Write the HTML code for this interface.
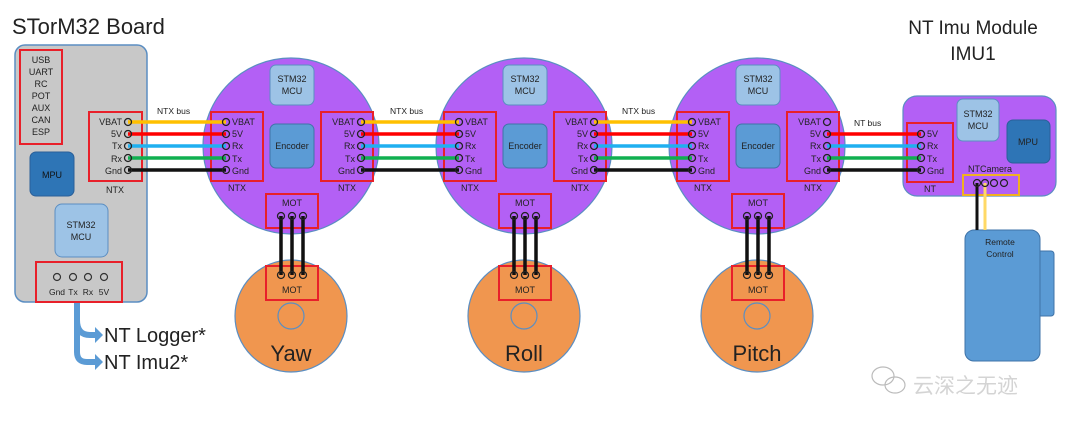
<!DOCTYPE html>
<html><head><meta charset="utf-8"><style>
html,body{margin:0;padding:0;background:#fff}
svg{display:block}
text{font-family:"Liberation Sans","Noto Sans CJK SC",sans-serif}
</style></head><body>
<svg width="1080" height="432" viewBox="0 0 1080 432" xmlns="http://www.w3.org/2000/svg">
<text x="12" y="34" font-size="22" fill="#222">STorM32 Board</text>
<text x="973" y="34" font-size="19" fill="#222" text-anchor="middle">NT Imu Module</text>
<text x="973" y="60" font-size="19" fill="#222" text-anchor="middle">IMU1</text>

<rect x="15" y="45" width="132" height="257" rx="10" fill="#c8c8c8" stroke="#5b8ec2" stroke-width="1.5"/>
<rect x="20" y="50" width="42" height="94" fill="none" stroke="#e8202a" stroke-width="2"/>
<g font-size="9" fill="#222" text-anchor="middle">
<text x="41" y="63">USB</text><text x="41" y="75">UART</text><text x="41" y="87">RC</text>
<text x="41" y="99">POT</text><text x="41" y="111">AUX</text><text x="41" y="123">CAN</text><text x="41" y="135">ESP</text>
</g>
<rect x="30" y="152" width="44" height="44" rx="6" fill="#2e75b6" stroke="#2a5f99"/>
<text x="52" y="178" font-size="9" fill="#111" text-anchor="middle">MPU</text>
<rect x="55" y="204" width="53" height="53" rx="7" fill="#9dc3e6" stroke="#5b8ec2"/>
<text x="81" y="228" font-size="9" fill="#222" text-anchor="middle">STM32</text>
<text x="81" y="240" font-size="9" fill="#222" text-anchor="middle">MCU</text>
<rect x="89" y="112" width="53" height="69" fill="none" stroke="#e8202a" stroke-width="2"/>
<g font-size="9" fill="#222" text-anchor="end">
<text x="122" y="125">VBAT</text><text x="122" y="137">5V</text><text x="122" y="149">Tx</text><text x="122" y="162">Rx</text><text x="122" y="174">Gnd</text>
</g>
<text x="115" y="193" font-size="9" fill="#222" text-anchor="middle">NTX</text>
<rect x="36" y="262" width="86" height="40" fill="none" stroke="#e8202a" stroke-width="2"/>
<g fill="none" stroke="#333" stroke-width="1.2">
<circle cx="57" cy="277" r="3.5"/><circle cx="73" cy="277" r="3.5"/><circle cx="88" cy="277" r="3.5"/><circle cx="104" cy="277" r="3.5"/>
</g>
<g font-size="8.5" fill="#222" text-anchor="middle">
<text x="57" y="295">Gnd</text><text x="73" y="295">Tx</text><text x="88" y="295">Rx</text><text x="104" y="295">5V</text>
</g>
<g fill="none" stroke="#5b9bd5" stroke-width="6">
<path d="M77 303 V352 Q77 362 87 362 H96"/>
<path d="M77 320 Q77 335 90 335 H96"/>
</g>
<path d="M95 327 L103 335 L95 343 Z" fill="#5b9bd5"/>
<path d="M95 354 L103 362 L95 370 Z" fill="#5b9bd5"/>
<text x="104" y="342" font-size="20" fill="#222">NT Logger*</text>
<text x="104" y="369" font-size="20" fill="#222">NT Imu2*</text>

<g font-size="9" fill="#222">
<!-- Yaw -->
<circle cx="291" cy="146" r="88" fill="#b360f5" stroke="#5b8ec2" stroke-width="1.2"/>
<rect x="270" y="65" width="44" height="40" rx="6" fill="#9dc3e6" stroke="#5b8ec2"/>
<text x="292" y="82" text-anchor="middle">STM32</text><text x="292" y="94" text-anchor="middle">MCU</text>
<rect x="270" y="124" width="44" height="44" rx="6" fill="#5b9bd5" stroke="#3f73a8"/>
<text x="292" y="149" text-anchor="middle">Encoder</text>
<rect x="211" y="112" width="52" height="69" fill="none" stroke="#e8202a" stroke-width="2"/>
<rect x="321" y="112" width="52" height="69" fill="none" stroke="#e8202a" stroke-width="2"/>
<text x="237" y="191" text-anchor="middle">NTX</text><text x="347" y="191" text-anchor="middle">NTX</text>
<text x="232" y="125">VBAT</text><text x="232" y="137">5V</text><text x="232" y="149">Rx</text><text x="232" y="162">Tx</text><text x="232" y="174">Gnd</text>
<g text-anchor="end"><text x="355" y="125">VBAT</text><text x="355" y="137">5V</text><text x="355" y="149">Rx</text><text x="355" y="162">Tx</text><text x="355" y="174">Gnd</text></g>
<rect x="266" y="194" width="52" height="34" fill="none" stroke="#e8202a" stroke-width="2"/>
<text x="292" y="206" text-anchor="middle">MOT</text>
<circle cx="291" cy="316" r="56" fill="#f0964f" stroke="#5b8ec2" stroke-width="1.2"/>
<rect x="266" y="266" width="52" height="34" fill="none" stroke="#e8202a" stroke-width="2"/>
<text x="292" y="293" text-anchor="middle">MOT</text>
<circle cx="291" cy="316" r="13" fill="none" stroke="#5b8ec2" stroke-width="1.2"/>
<text x="291" y="361" font-size="22" text-anchor="middle">Yaw</text>

<!-- Roll -->
<circle cx="524" cy="146" r="88" fill="#b360f5" stroke="#5b8ec2" stroke-width="1.2"/>
<rect x="503" y="65" width="44" height="40" rx="6" fill="#9dc3e6" stroke="#5b8ec2"/>
<text x="525" y="82" text-anchor="middle">STM32</text><text x="525" y="94" text-anchor="middle">MCU</text>
<rect x="503" y="124" width="44" height="44" rx="6" fill="#5b9bd5" stroke="#3f73a8"/>
<text x="525" y="149" text-anchor="middle">Encoder</text>
<rect x="444" y="112" width="52" height="69" fill="none" stroke="#e8202a" stroke-width="2"/>
<rect x="554" y="112" width="52" height="69" fill="none" stroke="#e8202a" stroke-width="2"/>
<text x="470" y="191" text-anchor="middle">NTX</text><text x="580" y="191" text-anchor="middle">NTX</text>
<text x="465" y="125">VBAT</text><text x="465" y="137">5V</text><text x="465" y="149">Rx</text><text x="465" y="162">Tx</text><text x="465" y="174">Gnd</text>
<g text-anchor="end"><text x="588" y="125">VBAT</text><text x="588" y="137">5V</text><text x="588" y="149">Rx</text><text x="588" y="162">Tx</text><text x="588" y="174">Gnd</text></g>
<rect x="499" y="194" width="52" height="34" fill="none" stroke="#e8202a" stroke-width="2"/>
<text x="525" y="206" text-anchor="middle">MOT</text>
<circle cx="524" cy="316" r="56" fill="#f0964f" stroke="#5b8ec2" stroke-width="1.2"/>
<rect x="499" y="266" width="52" height="34" fill="none" stroke="#e8202a" stroke-width="2"/>
<text x="525" y="293" text-anchor="middle">MOT</text>
<circle cx="524" cy="316" r="13" fill="none" stroke="#5b8ec2" stroke-width="1.2"/>
<text x="524" y="361" font-size="22" text-anchor="middle">Roll</text>

<!-- Pitch -->
<circle cx="757" cy="146" r="88" fill="#b360f5" stroke="#5b8ec2" stroke-width="1.2"/>
<rect x="736" y="65" width="44" height="40" rx="6" fill="#9dc3e6" stroke="#5b8ec2"/>
<text x="758" y="82" text-anchor="middle">STM32</text><text x="758" y="94" text-anchor="middle">MCU</text>
<rect x="736" y="124" width="44" height="44" rx="6" fill="#5b9bd5" stroke="#3f73a8"/>
<text x="758" y="149" text-anchor="middle">Encoder</text>
<rect x="677" y="112" width="52" height="69" fill="none" stroke="#e8202a" stroke-width="2"/>
<rect x="787" y="112" width="52" height="69" fill="none" stroke="#e8202a" stroke-width="2"/>
<text x="703" y="191" text-anchor="middle">NTX</text><text x="813" y="191" text-anchor="middle">NTX</text>
<text x="698" y="125">VBAT</text><text x="698" y="137">5V</text><text x="698" y="149">Rx</text><text x="698" y="162">Tx</text><text x="698" y="174">Gnd</text>
<g text-anchor="end"><text x="821" y="125">VBAT</text><text x="821" y="137">5V</text><text x="821" y="149">Rx</text><text x="821" y="162">Tx</text><text x="821" y="174">Gnd</text></g>
<rect x="732" y="194" width="52" height="34" fill="none" stroke="#e8202a" stroke-width="2"/>
<text x="758" y="206" text-anchor="middle">MOT</text>
<circle cx="757" cy="316" r="56" fill="#f0964f" stroke="#5b8ec2" stroke-width="1.2"/>
<rect x="732" y="266" width="52" height="34" fill="none" stroke="#e8202a" stroke-width="2"/>
<text x="758" y="293" text-anchor="middle">MOT</text>
<circle cx="757" cy="316" r="13" fill="none" stroke="#5b8ec2" stroke-width="1.2"/>
<text x="757" y="361" font-size="22" text-anchor="middle">Pitch</text>

<!-- IMU module -->
<rect x="903" y="96" width="153" height="100" rx="14" fill="#b360f5" stroke="#5b8ec2" stroke-width="1.2"/>
<rect x="957" y="99" width="42" height="42" rx="6" fill="#9dc3e6" stroke="#5b8ec2"/>
<text x="978" y="117" text-anchor="middle">STM32</text><text x="978" y="129" text-anchor="middle">MCU</text>
<rect x="1007" y="120" width="43" height="43" rx="6" fill="#2e75b6" stroke="#2a5f99"/>
<text x="1028" y="145" text-anchor="middle">MPU</text>
<rect x="907" y="123" width="46" height="59" fill="none" stroke="#e8202a" stroke-width="2"/>
<text x="927" y="137">5V</text><text x="927" y="149">Rx</text><text x="927" y="162">Tx</text><text x="927" y="174">Gnd</text>
<text x="930" y="192" text-anchor="middle">NT</text>
<text x="990" y="172" text-anchor="middle">NTCamera</text>
<rect x="963" y="175" width="56" height="20" fill="none" stroke="#f0b020" stroke-width="2"/>
<text x="157" y="114" font-size="8.5">NTX bus</text>
<text x="390" y="114" font-size="8.5">NTX bus</text>
<text x="622" y="114" font-size="8.5">NTX bus</text>
<text x="854" y="126" font-size="8.5">NT bus</text>
</g>

<rect x="1036" y="251" width="18" height="65" rx="3" fill="#5b9bd5" stroke="#3f73a8"/>
<rect x="965" y="230" width="75" height="131" rx="9" fill="#5b9bd5" stroke="#3f73a8"/>
<text x="1000" y="245" font-size="8.5" fill="#222" text-anchor="middle">Remote</text>
<text x="1000" y="257" font-size="8.5" fill="#222" text-anchor="middle">Control</text>
<line x1="977" y1="183" x2="977" y2="230" stroke="#111" stroke-width="3"/>
<line x1="985" y1="183" x2="985" y2="230" stroke="#ffd966" stroke-width="3"/>
<g fill="none" stroke="#222" stroke-width="1.2">
<circle cx="977" cy="183" r="3.5"/><circle cx="985" cy="183" r="3.5"/><circle cx="994" cy="183" r="3.5"/><circle cx="1004" cy="183" r="3.5"/>
</g>

<g stroke-width="3.5" fill="none">
<g stroke="#ffc000"><line x1="128" y1="122" x2="226" y2="122"/><line x1="361" y1="122" x2="459" y2="122"/><line x1="594" y1="122" x2="692" y2="122"/></g>
<g stroke="#ff0000"><line x1="128" y1="134" x2="226" y2="134"/><line x1="361" y1="134" x2="459" y2="134"/><line x1="594" y1="134" x2="692" y2="134"/><line x1="827" y1="134" x2="921" y2="134"/></g>
<g stroke="#1fb0f0"><line x1="128" y1="146" x2="226" y2="146"/><line x1="361" y1="146" x2="459" y2="146"/><line x1="594" y1="146" x2="692" y2="146"/><line x1="827" y1="146" x2="921" y2="146"/></g>
<g stroke="#10b050"><line x1="128" y1="158" x2="226" y2="158"/><line x1="361" y1="158" x2="459" y2="158"/><line x1="594" y1="158" x2="692" y2="158"/><line x1="827" y1="158" x2="921" y2="158"/></g>
<g stroke="#111"><line x1="128" y1="170" x2="226" y2="170"/><line x1="361" y1="170" x2="459" y2="170"/><line x1="594" y1="170" x2="692" y2="170"/><line x1="827" y1="170" x2="921" y2="170"/></g>
<g stroke="#111">
<line x1="281" y1="216" x2="281" y2="275"/><line x1="292" y1="216" x2="292" y2="275"/><line x1="303" y1="216" x2="303" y2="275"/>
<line x1="514" y1="216" x2="514" y2="275"/><line x1="525" y1="216" x2="525" y2="275"/><line x1="536" y1="216" x2="536" y2="275"/>
<line x1="747" y1="216" x2="747" y2="275"/><line x1="758" y1="216" x2="758" y2="275"/><line x1="769" y1="216" x2="769" y2="275"/>
</g>
</g>
<g fill="none" stroke="#222" stroke-width="1.3">
<circle cx="128" cy="122" r="3.5"/><circle cx="128" cy="134" r="3.5"/><circle cx="128" cy="146" r="3.5"/><circle cx="128" cy="158" r="3.5"/><circle cx="128" cy="170" r="3.5"/>
<g id="cc">
<circle cx="226" cy="122" r="3.5"/><circle cx="226" cy="134" r="3.5"/><circle cx="226" cy="146" r="3.5"/><circle cx="226" cy="158" r="3.5"/><circle cx="226" cy="170" r="3.5"/>
<circle cx="361" cy="122" r="3.5"/><circle cx="361" cy="134" r="3.5"/><circle cx="361" cy="146" r="3.5"/><circle cx="361" cy="158" r="3.5"/><circle cx="361" cy="170" r="3.5"/>
<circle cx="281" cy="216" r="3.5"/><circle cx="292" cy="216" r="3.5"/><circle cx="303" cy="216" r="3.5"/>
<circle cx="281" cy="275" r="3.5"/><circle cx="292" cy="275" r="3.5"/><circle cx="303" cy="275" r="3.5"/>
</g>
<use href="#cc" x="233"/><use href="#cc" x="466"/>
<circle cx="921" cy="134" r="3.5"/><circle cx="921" cy="146" r="3.5"/><circle cx="921" cy="158" r="3.5"/><circle cx="921" cy="170" r="3.5"/>
</g>

<g fill="none" stroke="#bbb" stroke-width="1.2">
<ellipse cx="883" cy="376" rx="11" ry="9"/><ellipse cx="895" cy="385" rx="10" ry="8"/>
</g>
<text x="913" y="393" font-size="21" fill="#d4d4d4">云深之无迹</text>
</svg>
</body></html>
